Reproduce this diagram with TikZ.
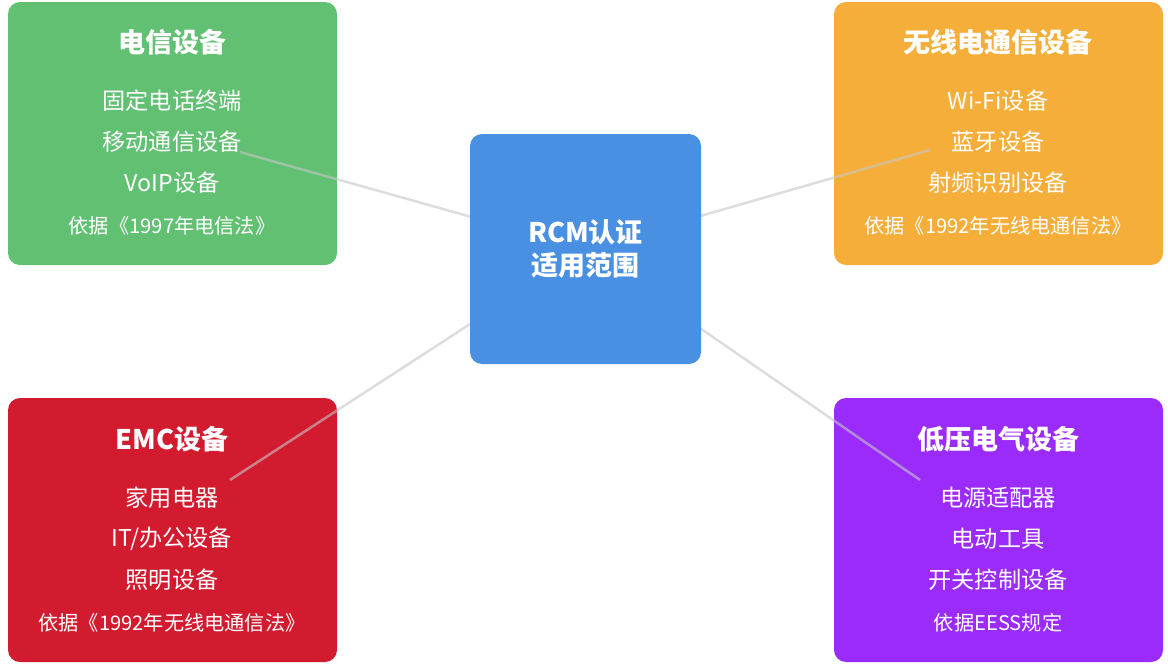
\documentclass[tikz,border=0pt]{standalone}
\usepackage{fontspec}
\setmainfont{Noto Sans CJK SC}
\begin{document}
\begin{tikzpicture}[x=1pt,y=-1pt,
 box/.style={rounded corners=12pt,fill=#1,draw=none},
 t/.style={text=white,font=\fontsize{27}{30}\selectfont\bfseries,anchor=center},
 it/.style={text=white,font=\fontsize{23.2}{26}\selectfont,anchor=center},
 ft/.style={text=white,font=\fontsize{20.2}{23}\selectfont,anchor=center},
 ln/.style={draw=gray!45,line width=2.5pt,opacity=0.6}]
\definecolor{cg}{HTML}{62C073}\definecolor{co}{HTML}{F6AE3A}
\definecolor{cr}{HTML}{D31B30}\definecolor{cp}{HTML}{9B2BFA}\definecolor{cb}{HTML}{4A90E2}
\useasboundingbox (0,0) rectangle (1168,667);
\fill[box=cg] (8,2) rectangle (337,265);
\fill[box=co] (834,2) rectangle (1163,265);
\fill[box=cr] (8,398) rectangle (337,662);
\fill[box=cp] (834,398) rectangle (1163,662);
\coordinate (c) at (585.5,249);
\coordinate (eg) at (240,152);
\coordinate (eo) at (930,150);
\coordinate (er) at (230,480);
\coordinate (ep) at (920,480);
\draw[ln] (c) -- (eg); \draw[ln] (c) -- (eo); \draw[ln] (c) -- (er); \draw[ln] (c) -- (ep);
\node[box=cb,minimum width=231pt,minimum height=230pt,inner sep=0pt] (center) at (c) {};
\node[t] (ct1) at (585.5,232) {RCM认证};
\node[t] (ct2) at (585.5,265) {适用范围};
\node[t] (g0) at (172,42) {电信设备};
\node[it] (g1) at (172,101) {固定电话终端};
\node[it] (g2) at (172,142) {移动通信设备};
\node[it] (g3) at (172,183) {VoIP设备};
\node[ft] (g4) at (172,226) {依据《1997年电信法》};
\node[t] (o0) at (998,42) {无线电通信设备};
\node[it] (o1) at (998,101) {Wi-Fi设备};
\node[it] (o2) at (998,142) {蓝牙设备};
\node[it] (o3) at (998,183) {射频识别设备};
\node[ft] (o4) at (998,226) {依据《1992年无线电通信法》};
\node[t] (r0) at (172,439) {EMC设备};
\node[it] (r1) at (172,498) {家用电器};
\node[it] (r2) at (172,539) {IT/办公设备};
\node[it] (r3) at (172,580) {照明设备};
\node[ft] (r4) at (172,623) {依据《1992年无线电通信法》};
\node[t] (p0) at (998,439) {低压电气设备};
\node[it] (p1) at (998,498) {电源适配器};
\node[it] (p2) at (998,539) {电动工具};
\node[it] (p3) at (998,580) {开关控制设备};
\node[ft] (p4) at (998,623) {依据EESS规定};
\end{tikzpicture}
\end{document}
